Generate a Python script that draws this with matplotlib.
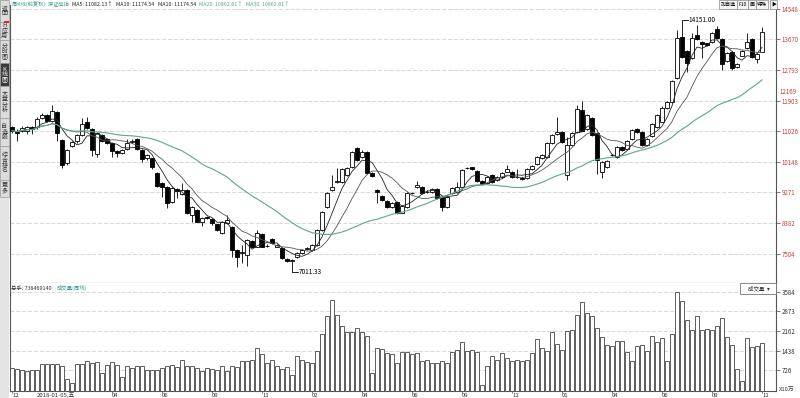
import numpy as np
import matplotlib
matplotlib.use('Agg')
import matplotlib.pyplot as plt
from matplotlib.patches import Rectangle
import pandas as pd

plt.rcParams['font.family'] = ['Noto Sans CJK SC', 'DejaVu Sans']

# weekly candles
opens = [11141, 11043, 11043, 11043, 11141, 11141, 11400, 11495, 11331, 11573,
         10775, 10104, 10602, 10755, 10919, 11302, 11083, 10372, 10919, 10795,
         10697, 10458, 10392, 10507, 10720, 10795, 10487, 10248, 10248, 9816,
         9528, 9413, 8998, 9364, 9220, 9335, 8615, 8759, 8422, 8566,
         8491, 8347, 8088, 8376, 8261, 7607, 7530, 7463, 7866, 7702,
         8068, 7722, 7915, 7702, 7656, 7348, 7300, 7397, 7512, 7650,
         7607, 7751, 8183, 8854, 9335, 9570, 9574, 9767, 10006, 10536,
         10294, 10438, 9834, 9335, 9162, 9018, 8837, 8998, 8681, 8854,
         9240, 9430, 9430, 9280, 9286, 9364, 9142, 8854, 9240, 9286,
         9430, 9960, 9989, 9891, 9603, 9545, 9767, 9623, 9701, 9862,
         9862, 9700, 9689, 9672, 9931, 10084, 10248, 10294, 10680, 10939,
         11015, 9767, 10631, 11015, 11639, 11083, 11400, 10967, 9862, 10006,
         10340, 10294, 10582, 10507, 10795, 11083, 10997, 10631, 10899, 11158,
         11302, 11705, 11861, 12552, 13733, 13338, 13128, 13799, 13606, 13560,
         13606, 13972, 13684, 13050, 13318, 12886, 13203, 13416, 13684, 13108,
         13318]
closes = [11043, 10985, 11121, 11141, 11083, 11371, 11495, 11331, 11619, 10985,
          10055, 10487, 10726, 10919, 11227, 11112, 10487, 10967, 10755, 10697,
          10458, 10392, 10487, 10697, 10730, 10507, 10219, 10343, 9989, 9450,
          9430, 8952, 9384, 9306, 9335, 8664, 8854, 8422, 8537, 8520,
          8376, 8183, 8422, 8471, 7607, 7414, 7530, 7895, 7702, 8088,
          7702, 7730, 7800, 7751, 7368, 7299, 7320, 7530, 7607, 7660,
          7751, 8183, 8710, 9240, 9430, 9580, 9931, 9960, 10438, 10199,
          10438, 9834, 9748, 9286, 9047, 8854, 8970, 8664, 8874, 9240,
          9250, 9479, 9240, 9290, 9364, 9096, 8837, 9124, 9401, 9430,
          9911, 9965, 9931, 9603, 9508, 9701, 9574, 9701, 9816, 9931,
          9701, 9705, 9643, 9931, 10026, 10294, 10343, 10697, 10919, 11015,
          10726, 10631, 10967, 11659, 11043, 11495, 10919, 10199, 10150, 10179,
          10345, 10565, 10487, 10755, 11063, 11015, 10631, 10804, 11227, 11495,
          11705, 11878, 12474, 13721, 13174, 12984, 13704, 13684, 13531, 13511,
          13848, 13704, 12955, 13272, 12857, 12955, 13338, 13589, 13174, 13243,
          13877]
highs = [11178, 11092, 11170, 11180, 11170, 11437, 11553, 11530, 11792, 11600,
         10800, 10520, 10760, 10950, 11409, 11437, 11120, 11000, 10960, 10830,
         10720, 10480, 10520, 10804, 10790, 10820, 10510, 10380, 10270, 9840,
         9560, 9440, 9420, 9380, 9537, 9360, 8880, 8780, 8560, 8600,
         8520, 8370, 8450, 8615, 8290, 7630, 7751, 7930, 7900, 8183,
         8090, 7780, 7950, 7780, 7680, 7370, 7350, 7560, 7640, 7700,
         7780, 8200, 8740, 9270, 9767, 9969, 9960, 9990, 10470, 10560,
         10480, 10470, 9860, 9360, 9190, 9040, 9000, 9020, 8900, 9270,
         9290, 9594, 9460, 9330, 9400, 9390, 9170, 9150, 9430, 9565,
         9940, 10000, 10010, 9920, 9630, 9730, 9800, 9730, 9840, 10055,
         9890, 9940, 9710, 9960, 10050, 10320, 10370, 10720, 10950, 11437,
         11040, 10861, 11000, 11783, 11898, 11520, 11430, 11000, 10180, 10210,
         10380, 10590, 10610, 10780, 11090, 11110, 11020, 10830, 11260, 11520,
         11740, 11910, 12500, 13943, 14151, 13360, 13856, 14087, 13640, 13580,
         13880, 14058, 13710, 13300, 13340, 12980, 13360, 13856, 13710, 13270,
         14030]
lows = [10985, 10755, 11000, 10948, 10948, 11100, 11380, 11300, 11300, 10746,
        9969, 10060, 10560, 10700, 10880, 11080, 10314, 10285, 10720, 10650,
        10285, 10285, 10360, 10480, 10680, 10480, 10141, 10200, 9950, 9420,
        9125, 8817, 8960, 9105, 9200, 8640, 8414, 8400, 8298, 8490,
        8340, 8150, 8060, 8350, 7405, 7126, 7233, 7146, 7680, 7680,
        7680, 7690, 7780, 7680, 7340, 7250, 7011, 7370, 7490, 7620,
        7590, 7730, 8160, 8830, 9300, 9530, 9550, 9740, 9980, 10170,
        10270, 9800, 9720, 8960, 9020, 8830, 8810, 8640, 8660, 8830,
        9210, 9400, 9210, 9250, 9260, 9070, 8730, 8830, 9210, 9260,
        9400, 9930, 9900, 9580, 9480, 9520, 9550, 9600, 9680, 9840,
        9680, 9680, 9620, 9650, 9910, 10060, 10220, 10270, 10660, 10920,
        10700, 9623, 10600, 10990, 11020, 11060, 10890, 9796, 9681, 9980,
        10310, 10270, 10460, 10480, 10770, 10990, 10600, 10610, 10870, 11130,
        11280, 11680, 11840, 12520, 13150, 12742, 13100, 13650, 13137, 13490,
        13580, 13680, 12791, 13020, 12800, 12860, 13180, 13390, 13150, 12993,
        13300]
volumes = [813, 788, 751, 715, 751, 751, 958, 970, 970, 970,
           897, 414, 269, 958, 958, 1078, 1006, 1042, 630, 933,
           1030, 933, 486, 897, 824, 897, 885, 751, 727, 727,
           813, 897, 933, 848, 1090, 885, 885, 800, 703, 800,
           788, 751, 897, 715, 897, 860, 1078, 1078, 1115, 1539,
           1333, 1006, 1115, 897, 776, 848, 570, 1236, 1115, 1018,
           994, 1418, 2047, 2712, 3267, 2748, 2323, 2106, 2118, 2263,
           2118, 1986, 630, 1539, 1503, 1358, 1321, 994, 1379, 1379,
           1333, 1357, 1054, 1115, 994, 994, 1078, 994, 1379, 1454,
           1742, 1442, 1478, 1379, 207, 873, 1236, 1090, 1357, 1175,
           1078, 1115, 1054, 1090, 1357, 1876, 1539, 1418, 2106, 1696,
           1454, 2167, 2203, 2724, 3209, 2809, 2712, 2263, 1938, 1659,
           1599, 1779, 1803, 1379, 1078, 1623, 1659, 1418, 1962, 1742,
           1900, 1078, 2058, 3572, 3257, 2566, 2203, 2712, 2179, 2240,
           2203, 2323, 2627, 1925, 1659, 777, 352, 1900, 1574, 1623,
           1720]

price_ticks = [14548, 13670, 12793, 11903, 11026, 10148, 9271, 8382, 7504]
vol_ticks = [3584, 2873, 2162, 1438, 726]
date_pos = [0, 20, 30, 40, 50, 60, 70, 80, 90, 100, 110, 120, 130, 140, 150]
date_labels = ['12', '04', '06', '09', '11', '02', '04', '06', '09', '11',
               '01', '04', '06', '09', '11']
side_tabs = ['返回', 'H应用', '分时图', 'K线图', '大盘分析', '自选股', '综合排名', '更多']
header = [('周K线(前复权): 深证成指', '#3a9a96'),
          ('MA5: 11082.13↑', '#222222'),
          ('MA10: 11174.54', '#222222'),
          ('MA10: 11174.54', '#222222'),
          ('MA20: 10862.81↑', '#5aa596'),
          ('MA30: 10862.81↑', '#5aa596')]

n = len(closes)
x = np.arange(n)
o = np.array(opens)
c = np.array(closes)
s = pd.Series(closes)
ma5 = s.rolling(5, min_periods=1).mean()
ma10 = s.rolling(10, min_periods=1).mean()
ma30 = s.rolling(30, min_periods=1).mean()

W, H = 800, 398
fig = plt.figure(figsize=(8, 3.98), dpi=100)

def box(l, t, r, b):
    return [l / W, 1 - b / H, (r - l) / W, (b - t) / H]

grid_kw = dict(color='#d2d2d2', lw=0.6, ls=(0, (5, 2)))

# price pane
ax = fig.add_axes(box(9.5, 5, 776, 283))
ax.set_xlim(-0.5, 152.8)
ax.set_ylim(6657, 14663)
up = c >= o
ax.vlines(x, lows, highs, color='black', lw=0.6, zorder=2)
ax.bar(x[up], np.maximum(c[up] - o[up], 12), bottom=o[up], width=0.72,
       facecolor='white', edgecolor='black', lw=0.6, zorder=3)
ax.bar(x[~up], np.maximum(o[~up] - c[~up], 12), bottom=c[~up], width=0.72,
       facecolor='black', edgecolor='black', lw=0.6, zorder=3)
ax.plot(x, ma5, color='#222222', lw=0.6, zorder=4)
ax.plot(x, ma10, color='#555555', lw=0.6, zorder=4)
ax.plot(x, ma30, color='#5aa596', lw=0.8, zorder=4)
for t in price_ticks:
    ax.axhline(t, zorder=0, **grid_kw)
ax.set_yticks(price_ticks)
ax.yaxis.tick_right()
ax.tick_params(axis='y', length=3, width=0.6, labelsize=4.4, pad=1,
               labelcolor='#c8403c', color='#666666')
ax.tick_params(axis='x', bottom=False, labelbottom=False)
ax.text(1.004, (12169 - 6657) / (14663 - 6657), '12169', transform=ax.transAxes,
        fontsize=4.4, color='#c8403c', va='center', ha='left')
ax.spines['top'].set_visible(False)
for sp in ['left', 'right', 'bottom']:
    ax.spines[sp].set_color('#555555')
    ax.spines[sp].set_linewidth(0.8)

# high / low markers
hi_i = int(np.argmax(highs))
lo_i = int(np.argmin(lows))
ax.plot([hi_i, hi_i, hi_i + 1.1], [highs[hi_i], highs[hi_i] + 90, highs[hi_i] + 90],
        color='black', lw=0.6, zorder=5)
ax.text(hi_i + 1.3, highs[hi_i] + 90, f'{highs[hi_i]:.2f}', fontsize=4.6, va='center')
ax.plot([lo_i, lo_i, lo_i + 1.1], [lows[lo_i], lows[lo_i] - 40, lows[lo_i] - 40],
        color='black', lw=0.6, zorder=5)
ax.text(lo_i + 1.3, lows[lo_i] - 40, '7011.33', fontsize=4.6, va='center')

# volume pane
vax = fig.add_axes(box(9.5, 283, 776, 390.5))
vax.set_xlim(-0.5, 152.8)
vax.set_ylim(0, 3900)
vax.bar(x, volumes, width=0.65, facecolor='white', edgecolor='#444444', lw=0.6, zorder=3)
for t in vol_ticks:
    vax.axhline(t, zorder=0, **grid_kw)
vax.set_yticks(vol_ticks)
vax.yaxis.tick_right()
vax.tick_params(axis='y', length=3, width=0.6, labelsize=4.4, pad=1,
                labelcolor='#333333', color='#666666')
vax.set_xticks(date_pos)
vax.set_xticklabels(date_labels)
vax.tick_params(axis='x', length=1.5, width=0.6, labelsize=4.3, pad=0,
                labelcolor='#333333', color='#666666')
for lab in vax.get_xticklabels():
    lab.set_horizontalalignment('left')
vax.spines['top'].set_visible(False)
for sp in ['left', 'right', 'bottom']:
    vax.spines[sp].set_color('#555555')
    vax.spines[sp].set_linewidth(0.8)
vax.text(5, -0.02, '2018-01-05,五', transform=vax.get_xaxis_transform(),
         fontsize=4.3, va='top', ha='left', color='#333333')
fig.text(779 / W, 1 - 389 / H, 'X10万', fontsize=4.2, color='#333333', va='center')

vh = fig.text(11 / W, 1 - 288 / H, '总手: 738469140', fontsize=3.9, color='#333333',
              va='center', zorder=10)
vax.annotate('成交量(周线)', xy=(1, 0.5), xycoords=vh, xytext=(4, 0), textcoords='offset points',
             fontsize=3.9, color='#3a9a96', va='center', annotation_clip=False)
fig.add_artist(Rectangle((740 / W, 1 - 294 / H), 36 / W, 11 / H, transform=fig.transFigure,
                         facecolor='white', edgecolor='#777777', lw=0.6))
fig.text(748 / W, 1 - 288.5 / H, '成交量  ▾', fontsize=4, color='#333333', va='center')

# header line, segments chained one after another
prev = fig.text(12 / W, 1 - 5 / H, header[0][0], fontsize=3.8, color=header[0][1], va='center')
for txt, col in header[1:]:
    prev = vax.annotate(txt, xy=(1, 0.5), xycoords=prev, xytext=(2.5, 0),
                        textcoords='offset points', fontsize=3.8, color=col,
                        va='center', annotation_clip=False)

# top-right buttons
for (l, r), txt in zip([(719, 737), (737, 748), (748, 756), (756, 768), (770, 777)],
                       ['加自选', 'F10', '画', '特殊', '▶']):
    fig.add_artist(Rectangle((l / W, 1 - 9 / H), (r - l) / W, 9 / H, transform=fig.transFigure,
                             facecolor='#f4f4f4', edgecolor='#888888', lw=0.5))
    fig.text((l + r) / 2 / W, 1 - 4.5 / H, txt, fontsize=3.6, ha='center', va='center')

# left sidebar
fig.add_artist(Rectangle((0, 0), 9 / W, 1, transform=fig.transFigure,
                         facecolor='#e4e4e4', edgecolor='none'))
tab_edges = [0, 22, 40, 63, 86, 118, 146, 180, 197]
for k, name in enumerate(side_tabs):
    t0, t1 = tab_edges[k], tab_edges[k + 1]
    dark = name == 'K线图'
    fig.add_artist(Rectangle((0, 1 - t1 / H), 8.5 / W, (t1 - t0) / H, transform=fig.transFigure,
                             facecolor='#3a3a3a' if dark else '#dcdcdc',
                             edgecolor='#9a9a9a', lw=0.5))
    fig.text(4.3 / W, 1 - (t0 + t1) / 2 / H, '\n'.join(name), fontsize=4.3,
             color='white' if dark else '#333333', ha='center', va='center', linespacing=1.0)
fig.add_artist(Rectangle((4 / W, 1 - 23 / H), 5 / W, 1.5 / H, transform=fig.transFigure,
                         facecolor='#d03030', edgecolor='none'))

fig.savefig('out.png', dpi=100, facecolor='white')
